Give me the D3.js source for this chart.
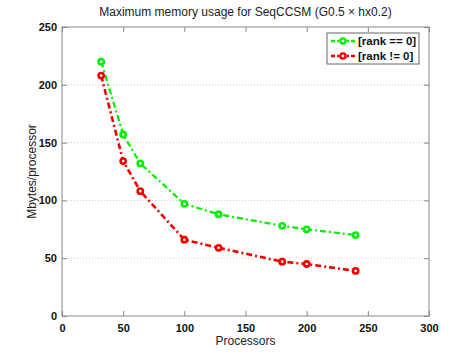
<!DOCTYPE html>
<html><head><meta charset="utf-8">
<script src="https://cdn.jsdelivr.net/npm/d3@7"></script>
<style>body{margin:0;background:#fff}svg{display:block}</style>
</head><body><svg id="c" width="474" height="355"></svg>
<script>
const processors = [32, 50, 64, 100, 128, 180, 200, 240];
const rank0 = [220, 157, 132, 97, 88, 78, 75, 70];
const rankN = [208, 134, 108, 66, 59, 47, 45, 39];
const xTicks = [0, 50, 100, 150, 200, 250, 300];
const yTicks = [0, 50, 100, 150, 200, 250];
const seriesNames = ["[rank == 0]", "[rank != 0]"];
const colors = ["#00ee00", "#ee0000"];

const svg = d3.select("#c");
const L = 62, R = 429, T = 27, B = 316;
const x = d3.scaleLinear().domain([0, 300]).range([L, R]);
const y = d3.scaleLinear().domain([0, 250]).range([B, T]);
const font = "Liberation Sans, Arial, sans-serif";

// grid
svg.append("g").selectAll("line").data(yTicks.filter(d => d > 0 && d < 250)).join("line")
  .attr("x1", L).attr("x2", R).attr("y1", d => y(d)).attr("y2", d => y(d))
  .attr("stroke", "#c8c8c8").attr("stroke-width", 1).attr("stroke-dasharray", "1,2");

// axes
const axStyle = g => {
  g.selectAll(".domain").remove();
  g.selectAll(".tick line").attr("stroke", "#888");
  g.selectAll(".tick text").attr("fill", "#111").attr("font-weight", "bold")
    .attr("font-size", 11).attr("font-family", font);
};
svg.append("g").attr("transform", `translate(0,${B})`)
  .call(d3.axisBottom(x).tickValues(xTicks).tickSize(-5).tickPadding(8).tickFormat(d3.format("d")))
  .call(axStyle);
svg.append("g").attr("transform", `translate(0,${T})`)
  .call(d3.axisTop(x).tickValues(xTicks).tickSize(-5).tickFormat(""))
  .call(axStyle);
svg.append("g").attr("transform", `translate(${L},0)`)
  .call(d3.axisLeft(y).tickValues(yTicks).tickSize(-5).tickPadding(5).tickFormat(d3.format("d")))
  .call(axStyle);
svg.append("g").attr("transform", `translate(${R},0)`)
  .call(d3.axisRight(y).tickValues(yTicks).tickSize(-5).tickFormat(""))
  .call(axStyle);
svg.append("rect").attr("x", L).attr("y", T).attr("width", R - L).attr("height", B - T)
  .attr("fill", "none").attr("stroke", "#888").attr("stroke-width", 1);

// series
const series = [rank0, rankN];
const line = d3.line().x(d => x(d[0])).y(d => y(d[1]));
series.forEach((vals, i) => {
  const pts = processors.map((p, j) => [p, vals[j]]);
  svg.append("path").datum(pts).attr("d", line).attr("fill", "none")
    .attr("stroke", colors[i]).attr("stroke-width", i === 0 ? 2.2 : 2.6)
    .attr("stroke-dasharray", "6,3,2,3");
  svg.append("g").selectAll("circle").data(pts).join("circle")
    .attr("cx", d => x(d[0])).attr("cy", d => y(d[1])).attr("r", 2.6)
    .attr("fill", "#fff").attr("stroke", colors[i]).attr("stroke-width", 2.6);
});

// title & labels
svg.append("text").attr("x", (L + R) / 2).attr("y", 16).attr("text-anchor", "middle")
  .attr("font-family", font).attr("font-size", 12).attr("fill", "#222")
  .text("Maximum memory usage for SeqCCSM (G0.5 \u00d7 hx0.2)");
svg.append("text").attr("x", (L + R) / 2).attr("y", 345).attr("text-anchor", "middle")
  .attr("font-family", font).attr("font-size", 12).attr("fill", "#222").text("Processors");
svg.append("text").attr("transform", `translate(36,${(T + B) / 2}) rotate(-90)`)
  .attr("text-anchor", "middle").attr("font-family", font).attr("font-size", 12)
  .attr("fill", "#222").text("Mbytes/processor");

// legend
const lg = svg.append("g");
lg.append("rect").attr("x", 327).attr("y", 33).attr("width", 92).attr("height", 31)
  .attr("fill", "#fff").attr("stroke", "#666").attr("stroke-width", 1);
seriesNames.forEach((n, i) => {
  const yy = 41 + i * 15;
  lg.append("line").attr("x1", 331).attr("x2", 355).attr("y1", yy).attr("y2", yy)
    .attr("stroke", colors[i]).attr("stroke-width", 2.4).attr("stroke-dasharray", "4,2,2,2");
  lg.append("circle").attr("cx", 343).attr("cy", yy).attr("r", 2.6)
    .attr("fill", "#fff").attr("stroke", colors[i]).attr("stroke-width", 2.4);
  lg.append("text").attr("x", 358).attr("y", yy + 4).attr("font-family", font)
    .attr("font-size", 11.5).attr("font-weight", "bold").attr("fill", "#111").text(n);
});
</script></body></html>
